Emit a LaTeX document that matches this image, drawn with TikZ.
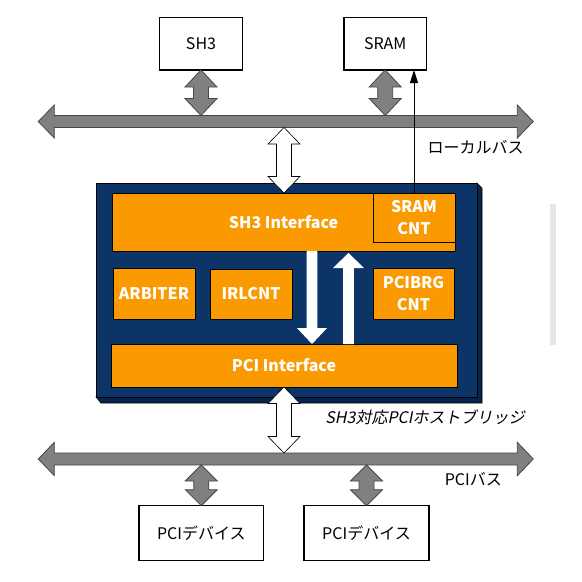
\documentclass[tikz,border=0pt]{standalone}
\usepackage{fontspec}
\setmainfont{Noto Sans CJK JP}
\newfontfamily\slfont[FakeSlant=0.2]{Noto Sans CJK JP}
\usetikzlibrary{calc,arrows.meta}
\definecolor{orng}{RGB}{250,153,0}
\definecolor{navy}{RGB}{12,52,102}
\definecolor{navyd}{RGB}{8,36,76}
\definecolor{busgray}{RGB}{128,128,128}
\definecolor{busedge}{RGB}{70,70,70}
\definecolor{artgray}{RGB}{230,230,230}
% vertical double arrow: #1 top, #2 bottom, #3 shaft half, #4 head half, #5 head length, #6 style
\newcommand\vdarr[6]{%
  \path[#6] let \p1=(#1), \p2=(#2) in
    (\x1,\y1) -- (\x1+#4pt,\y1-#5pt) -- (\x1+#3pt,\y1-#5pt) -- (\x1+#3pt,\y2+#5pt)
    -- (\x1+#4pt,\y2+#5pt) -- (\x1,\y2) -- (\x1-#4pt,\y2+#5pt) -- (\x1-#3pt,\y2+#5pt)
    -- (\x1-#3pt,\y1-#5pt) -- (\x1-#4pt,\y1-#5pt) -- cycle;}
% horizontal double arrow: #1 west tip, #2 east tip
\newcommand\hdarr[6]{%
  \path[#6] let \p1=(#1), \p2=(#2) in
    (\x1,\y1) -- (\x1+#5pt,\y1+#4pt) -- (\x1+#5pt,\y1+#3pt) -- (\x2-#5pt,\y1+#3pt)
    -- (\x2-#5pt,\y1+#4pt) -- (\x2,\y1) -- (\x2-#5pt,\y1-#4pt) -- (\x2-#5pt,\y1-#3pt)
    -- (\x1+#5pt,\y1-#3pt) -- (\x1+#5pt,\y1-#4pt) -- cycle;}
\begin{document}
\begin{tikzpicture}[x=1pt,y=-1pt,
  wbox/.style={draw=black,line width=1.2pt,fill=white,inner sep=0pt,outer sep=0pt,
    font=\fontsize{16}{18}\selectfont},
  obox/.style={draw=black,line width=1pt,fill=orng,text=white,inner sep=0pt,outer sep=0pt,
    font=\bfseries\fontsize{16}{22}\selectfont,align=center},
  bus/.style={fill=busgray,draw=busedge,line width=0.8pt},
  garr/.style={fill=busgray,draw=busedge,line width=0.8pt},
  warr/.style={fill=white,draw=black,line width=0.6pt},
  iarr/.style={fill=white},
  lbl/.style={font=\fontsize{16}{18}\selectfont,inner sep=0pt}]
\useasboundingbox (0,0) rectangle (582,582);
\fill[white] (0,0) rectangle (582,582);
\fill[artgray] (550,204) rectangle (556,345);

% top boxes
\node[wbox,minimum width=83.4pt,minimum height=52.7pt] (sh3) at (201,43.65) {SH3};
\node[wbox,minimum width=82.4pt,minimum height=52.7pt] (sram) at (385.2,43.65) {SRAM};

% local bus
\coordinate (lbW) at (38.3,121.5);
\coordinate (lbE) at (533.3,121.5);
\hdarr{lbW}{lbE}{6}{16.5}{16}{bus}
\node[lbl] (lbus) at (475.7,147.3) {ローカルバス};

% bridge block with extrusion
\fill[navyd,draw=black,line width=0.6pt] (477,183) -- (482,188) -- (482,403) -- (101,403) -- (96,397) -- (477,397) -- cycle;
\node[draw=black,fill=navy,line width=0.8pt,minimum width=381pt,minimum height=214pt,inner sep=0pt,outer sep=0pt] (blk) at (286.5,290) {};

\node[obox,minimum width=343pt,minimum height=58pt] (sh3if) at (283.5,222) {SH3 Interface};
\node[obox,minimum width=82pt,minimum height=49pt] (sramcnt) at (414,217.5) {SRAM\\CNT};
\node[obox,minimum width=82pt,minimum height=51pt] (arb) at (154,293.5) {ARBITER};
\node[obox,minimum width=82pt,minimum height=50pt] (irl) at (251,294) {IRLCNT};
\node[obox,minimum width=81pt,minimum height=51pt] (pcibrg) at (413.5,293.5) {PCIBRG\\CNT};
\node[obox,minimum width=346pt,minimum height=43pt] (pciif) at (284,365.5) {PCI Interface};

\node[lbl,font=\slfont\fontsize{16}{18}\selectfont] (brname) at (425,416.8) {SH3対応PCIホストブリッジ};

% PCI bus
\coordinate (pbW) at (38.3,459);
\coordinate (pbE) at (533.3,459);
\hdarr{pbW}{pbE}{6}{16.7}{16}{bus}
\node[lbl] (pbus) at (473.3,478.8) {PCIバス};

% PCI devices
\node[wbox,minimum width=124.6pt,minimum height=55pt] (dev1) at (201.3,533.2) {PCIデバイス};
\node[wbox,minimum width=125pt,minimum height=55pt] (dev2) at (366.5,533.2) {PCIデバイス};

% connectors
\coordinate (wx) at (284,0);
\coordinate (tx) at (414,0);
\coordinate (dnx) at (312,0);
\coordinate (upx) at (348.5,0);
\vdarr{sh3.south}{$(sh3.south |- lbW)+(0,-6)$}{7.5}{16}{17}{garr}
\vdarr{sram.south}{$(sram.south |- lbW)+(0,-6)$}{7.5}{16}{17}{garr}
\vdarr{$(wx |- lbW)+(0,6)$}{sh3if.north -| wx}{7.5}{16}{16.5}{warr}
\vdarr{pciif.south -| wx}{$(wx |- pbW)+(0,-6)$}{7.5}{16}{16.5}{warr}
\vdarr{$(dev1.north |- pbW)+(0,6)$}{dev1.north}{7.5}{16}{16}{garr}
\vdarr{$(dev2.north |- pbW)+(0,6)$}{dev2.north}{7.5}{16}{16}{garr}

% internal arrows
\path[iarr] let \p1=(sh3if.south -| dnx), \p2=(pciif.north -| dnx) in
  (\x1-5.3pt,\y1) -- (\x1-5.3pt,\y2+16pt) -- (\x1-15pt,\y2+16pt) -- (\x2,\y2)
  -- (\x1+15pt,\y2+16pt) -- (\x1+5.3pt,\y2+16pt) -- (\x1+5.3pt,\y1) -- cycle;
\path[iarr] let \p1=(pciif.north -| upx), \p2=($(sh3if.south -| upx)+(0,2)$) in
  (\x1-5.3pt,\y1) -- (\x1-5.3pt,\y2-15pt) -- (\x1-15.5pt,\y2-15pt) -- (\x2,\y2)
  -- (\x1+15.5pt,\y2-15pt) -- (\x1+5.3pt,\y2-15pt) -- (\x1+5.3pt,\y1) -- cycle;

% SRAM control line
\draw[line width=0.8pt,-{Triangle[length=13pt,width=8pt]}] (sramcnt.north -| tx) -- (sram.south -| tx);
\end{tikzpicture}
\end{document}
